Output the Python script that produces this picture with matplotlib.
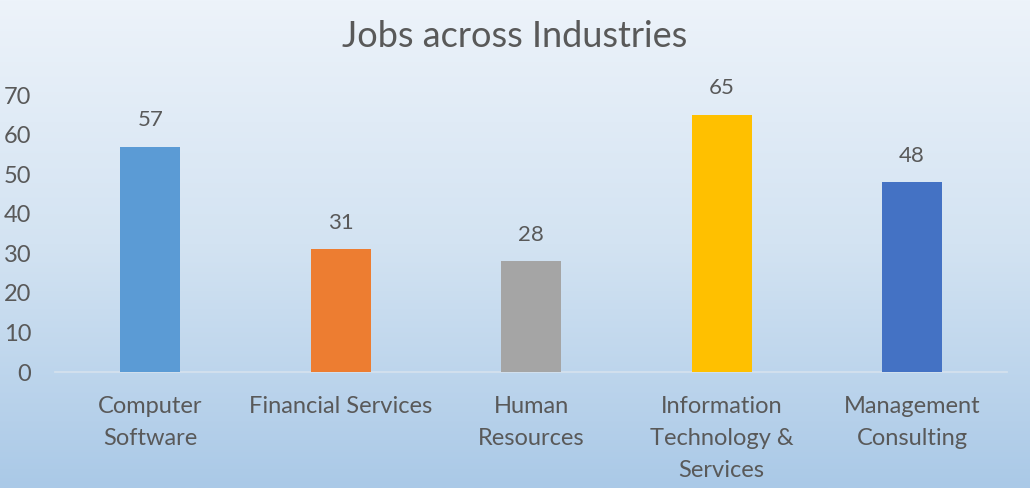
import numpy as np
import matplotlib
matplotlib.use('Agg')
import matplotlib.pyplot as plt
from matplotlib.colors import LinearSegmentedColormap

industries = ['Computer\nSoftware', 'Financial Services', 'Human\nResources',
              'Information\nTechnology &\nServices', 'Management\nConsulting']
jobs = [57, 31, 28, 65, 48]
colors = ['#5b9bd5', '#ed7d31', '#a5a5a5', '#ffc000', '#4472c4']
yticks = [0, 10, 20, 30, 40, 50, 60, 70]

plt.rcParams['font.family'] = ['Lato', 'DejaVu Sans']
txt = '#595959'

fig = plt.figure(figsize=(10.30, 4.88), dpi=100)

# gradient background
bg = fig.add_axes([0, 0, 1, 1], zorder=-1)
cmap = LinearSegmentedColormap.from_list('bg', ['#edf3fa', '#d3e3f2', '#aac9e7'])
grad = np.linspace(0, 1, 256).reshape(-1, 1)
bg.imshow(grad, aspect='auto', cmap=cmap, extent=[0, 1, 0, 1], origin='upper')
bg.axis('off')

ax = fig.add_axes([0.0534, 0.2377, 0.9246, 0.5673])
ax.patch.set_alpha(0)
x = np.arange(len(jobs))
bars = ax.bar(x, jobs, width=0.315, color=colors, zorder=3)
for b, v in zip(bars, jobs):
    ax.text(b.get_x() + b.get_width() / 2, v + 4.2, str(v), ha='center', va='bottom',
            fontsize=16, color=txt)

ax.set_xlim(-0.5, 4.5)
ax.set_ylim(0, 70)
ax.set_yticks(yticks)
ax.set_xticks(x)
ax.set_xticklabels(industries, fontsize=17, color=txt, linespacing=1.65)
ax.tick_params(axis='y', length=0, pad=17, labelsize=17, labelcolor=txt)
ax.tick_params(axis='x', length=0, pad=17)
for s in ['top', 'right', 'left']:
    ax.spines[s].set_visible(False)
ax.spines['bottom'].set_color('#d6e2ee')
ax.spines['bottom'].set_linewidth(1.2)

fig.text(0.5, 0.925, 'Jobs across Industries', ha='center', va='center',
         fontsize=26, color=txt)

fig.savefig('out.png', dpi=100)
